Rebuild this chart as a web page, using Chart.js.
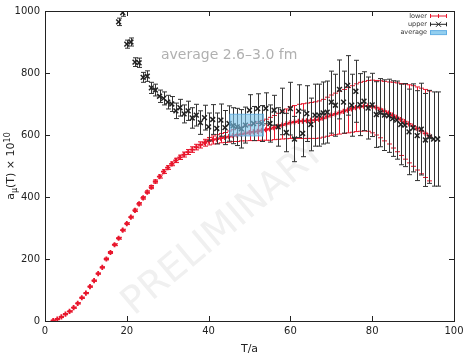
<!DOCTYPE html>
<html><head><meta charset="utf-8">
<script src="https://cdn.jsdelivr.net/npm/chart.js@4"></script>
<style>html,body{margin:0;padding:0;background:#fff}canvas{display:block}</style>
</head><body>
<canvas id="c" width="474" height="355"></canvas>
<script>
// ---- data ----
const lowerT = [2,3,4,5,6,7,8,9,10,11,12,13,14,15,16,17,18,19,20,21,22,23,24,25,26,27,28,29,30,31,32,33,34,35,36,37,38,39,40,41,42,43,44,45,46,47,48,49,50,51,52,53,54,55,56,57,58,59,60,61,62,63,64,65,66,67,68,69,70,71,72,73,74,75,76,77,78,79,80,81,82,83,84,85,86,87,88,89,90,91,92,93,94];
const lowerVal = [1,6,13,22,31,43,57,75,90,111,130,153,173,200,221,246,267,293,314,335,357,378,397,416,432,450,466,482,495,507,518,528,537,545,553,561,568,575,580,584,587,590,592,595,598,600,603,605,608,610,612,615,617,620,624,628,632,636,640,642,644,645,646,647,648,650,654,659,664,668,672,676,680,684,688,691,693,694,692,688,683,677,671,664,657,650,643,636,629,621,613,605,597];
const lowerErr = [2,2,2,2,2,2,2,2,2,2,2,2,2,3,3,3,3,3,3,3,4,4,4,4,5,5,5,6,6,6,7,7,8,8,9,9,10,11,12,13,14,15,16,18,19,21,22,24,26,28,30,32,34,37,39,42,45,48,51,53,55,56,57,58,59,60,61,63,65,67,69,71,73,75,77,79,80,82,85,88,92,96,100,106,111,116,121,126,130,134,138,142,145];

const upperT = [18,19,20,21,22,23,24,25,26,27,28,29,30,31,32,33,34,35,36,37,38,39,40,41,42,43,44,45,46,47,48,49,50,51,52,53,54,55,56,57,58,59,60,61,62,63,64,65,66,67,68,69,70,71,72,73,74,75,76,77,78,79,80,81,82,83,84,85,86,87,88,89,90,91,92,93,94,95,96];
const upperVal = [965,995,893,900,835,833,786,790,752,745,725,718,706,700,678,688,668,678,655,664,640,656,626,650,621,648,624,637,630,626,620,632,680,637,685,637,686,637,680,626,676,608,685,587,677,605,669,634,664,664,671,674,706,696,747,706,760,696,741,698,709,687,697,666,672,664,662,653,648,634,632,610,623,598,619,584,594,587,587];
const upperErr = [12,12,13,13,14,15,16,17,18,19,20,21,22,24,25,27,29,31,33,35,38,40,45,48,50,52,55,57,58,60,62,58,50,55,48,58,50,60,48,62,75,62,85,73,85,75,90,85,100,100,100,100,100,100,95,100,96,100,100,100,95,100,102,106,110,114,118,122,126,130,134,138,142,145,148,150,150,152,152];

const averageRange = [45.2, 53.4];   // T/a
const averageVal = 632;
const averageErr = 35;

const xTicks = [0,20,40,60,80,100];
const yTicks = [0,200,400,600,800,1000];
const titleText = 'average 2.6\u20133.0 fm';
const legendNames = ['lower','upper','average'];

const RED = '#e8162c', BLK = '#222222', BARBLK = '#333333';
const FONT = '"DejaVu Sans", sans-serif';

function pts(t, v){ return t.map((x,i)=>({x:x, y:v[i]})); }

const errorBars = {
  id:'errorBars',
  beforeDatasetDraw(chart, args){
    const ds = chart.data.datasets[args.index];
    if(!ds.err) return;
    const {ctx, chartArea:a, scales:{x, y}} = chart;
    ctx.save();
    ctx.beginPath(); ctx.rect(a.left, a.top, a.right-a.left, a.bottom-a.top); ctx.clip();
    ctx.strokeStyle = ds.barColor; ctx.lineWidth = 1;
    ds.data.forEach((p,i)=>{
      const px = Math.round(x.getPixelForValue(p.x))+0.5;
      const y1 = y.getPixelForValue(p.y+ds.err[i]);
      const y2 = y.getPixelForValue(p.y-ds.err[i]);
      ctx.beginPath();
      ctx.moveTo(px,y1); ctx.lineTo(px,y2);
      ctx.moveTo(px-2.5,y1); ctx.lineTo(px+2.5,y1);
      ctx.moveTo(px-2.5,y2); ctx.lineTo(px+2.5,y2);
      ctx.stroke();
    });
    ctx.restore();
  }
};

const decor = {
  id:'decor',
  beforeDatasetsDraw(chart){
    const ctx = chart.ctx;
    ctx.save();
    ctx.translate(224, 228);
    ctx.rotate(-40*Math.PI/180);
    ctx.font = '38px ' + FONT;
    ctx.fillStyle = '#f0f0f0';
    ctx.textAlign = 'center'; ctx.textBaseline = 'middle';
    ctx.fillText('PRELIMINARY', 0, 0);
    ctx.restore();
  },
  afterDatasetsDraw(chart){
    const {ctx, chartArea:a, scales:{x, y}} = chart;
    // average box
    ctx.save();
    const bx1 = x.getPixelForValue(averageRange[0]), bx2 = x.getPixelForValue(averageRange[1]);
    const by1 = y.getPixelForValue(averageVal+averageErr), by2 = y.getPixelForValue(averageVal-averageErr);
    ctx.fillStyle = 'rgba(120,195,235,0.6)';
    ctx.fillRect(bx1, by1, bx2-bx1, by2-by1);
    ctx.strokeStyle = 'rgba(90,170,225,0.8)'; ctx.lineWidth = 1;
    ctx.strokeRect(bx1, by1, bx2-bx1, by2-by1);
    ctx.restore();

    // frame
    ctx.save();
    ctx.strokeStyle = '#222'; ctx.lineWidth = 1;
    ctx.strokeRect(Math.round(a.left)+0.5, Math.round(a.top)+0.5, Math.round(a.right-a.left), Math.round(a.bottom-a.top));
    ctx.beginPath();
    xTicks.forEach(v=>{
      const px = Math.round(x.getPixelForValue(v))+0.5;
      ctx.moveTo(px, a.bottom); ctx.lineTo(px, a.bottom-5);
      ctx.moveTo(px, a.top); ctx.lineTo(px, a.top+5);
    });
    yTicks.forEach(v=>{
      const py = Math.round(y.getPixelForValue(v))+0.5;
      ctx.moveTo(a.left, py); ctx.lineTo(a.left+5, py);
      ctx.moveTo(a.right, py); ctx.lineTo(a.right-5, py);
    });
    ctx.stroke();
    ctx.restore();

    // title text
    ctx.save();
    ctx.font = '14px ' + FONT;
    ctx.fillStyle = '#b0b0b0';
    ctx.textAlign = 'left'; ctx.textBaseline = 'middle';
    ctx.fillText(titleText, 161, 55);
    ctx.restore();

    // legend
    ctx.save();
    ctx.font = '6.5px ' + FONT;
    ctx.fillStyle = '#333';
    ctx.textAlign = 'right'; ctx.textBaseline = 'middle';
    const lx = 427, sx1 = 430, sx2 = 447, ly = [16, 24.3, 32.6];
    legendNames.forEach((n,i)=>ctx.fillText(n, lx, ly[i]));
    ctx.lineWidth = 1;
    ctx.strokeStyle = RED;
    ctx.beginPath();
    ctx.moveTo(sx1, ly[0]); ctx.lineTo(sx2, ly[0]);
    ctx.moveTo(sx1+0.5, ly[0]-2); ctx.lineTo(sx1+0.5, ly[0]+2);
    ctx.moveTo(sx2-0.5, ly[0]-2); ctx.lineTo(sx2-0.5, ly[0]+2);
    ctx.moveTo((sx1+sx2)/2, ly[0]-2); ctx.lineTo((sx1+sx2)/2, ly[0]+2);
    ctx.stroke();
    ctx.strokeStyle = BLK;
    ctx.beginPath();
    ctx.moveTo(sx1, ly[1]); ctx.lineTo(sx2, ly[1]);
    ctx.moveTo(sx1+0.5, ly[1]-2); ctx.lineTo(sx1+0.5, ly[1]+2);
    ctx.moveTo(sx2-0.5, ly[1]-2); ctx.lineTo(sx2-0.5, ly[1]+2);
    const cx = (sx1+sx2)/2;
    ctx.moveTo(cx-2.5, ly[1]-2.5); ctx.lineTo(cx+2.5, ly[1]+2.5);
    ctx.moveTo(cx-2.5, ly[1]+2.5); ctx.lineTo(cx+2.5, ly[1]-2.5);
    ctx.stroke();
    ctx.fillStyle = 'rgba(120,195,235,0.8)';
    ctx.fillRect(sx1, ly[2]-2, sx2-sx1, 4);
    ctx.strokeStyle = 'rgba(90,170,225,0.9)';
    ctx.strokeRect(sx1+0.5, ly[2]-2, sx2-sx1-1, 4);
    ctx.restore();

    // axis titles
    ctx.save();
    ctx.fillStyle = '#222';
    ctx.font = '11px ' + FONT;
    ctx.textAlign = 'center'; ctx.textBaseline = 'middle';
    ctx.fillText('T/a', (a.left+a.right)/2, 349);
    ctx.translate(14, (a.top+a.bottom)/2);
    ctx.rotate(-Math.PI/2);
    const big = '11px ' + FONT, small = '8px ' + FONT;
    const parts = [['a',big,0],['\u03bc',small,3],['(T) \u00d7 10',big,0],['10',small,-4]];
    let total = 0;
    parts.forEach(p=>{ ctx.font = p[1]; total += ctx.measureText(p[0]).width; });
    let cur = -total/2;
    ctx.textAlign = 'left'; ctx.textBaseline = 'alphabetic';
    parts.forEach(p=>{ ctx.font = p[1]; ctx.fillText(p[0], cur, p[2]); cur += ctx.measureText(p[0]).width; });
    ctx.restore();
  }
};

new Chart(document.getElementById('c'), {
  type:'scatter',
  data:{
    datasets:[
      {label:'lower', data:pts(lowerT, lowerVal), err:lowerErr, barColor:RED,
       pointStyle:'cross', pointRadius:2.6, borderColor:RED, backgroundColor:RED, borderWidth:1.8, order:2},
      {label:'upper', data:pts(upperT, upperVal), err:upperErr, barColor:BARBLK,
       pointStyle:'crossRot', pointRadius:3.4, borderColor:BLK, backgroundColor:BLK, borderWidth:1.5, order:1}
    ]
  },
  options:{
    responsive:false, animation:false, devicePixelRatio:1,
    layout:{padding:{left:0, right:20, top:8, bottom:0}},
    plugins:{legend:{display:false}, tooltip:{enabled:false}},
    scales:{
      x:{type:'linear', min:0, max:100,
         afterFit(s){ s.height = 34; },
         afterBuildTicks(s){ s.ticks = xTicks.map(v=>({value:v})); },
         grid:{display:false, drawTicks:false}, border:{display:false},
         ticks:{padding:4, color:'#222', font:{family:FONT, size:10}, maxRotation:0, callback:v=>String(v)}},
      y:{type:'linear', min:0, max:1000,
         afterFit(s){ s.width = 45; },
         afterBuildTicks(s){ s.ticks = yTicks.map(v=>({value:v})); },
         grid:{display:false, drawTicks:false}, border:{display:false},
         ticks:{padding:5, color:'#222', font:{family:FONT, size:10}, callback:v=>String(v)}}
    }
  },
  plugins:[errorBars, decor]
});
</script>
</body></html>
